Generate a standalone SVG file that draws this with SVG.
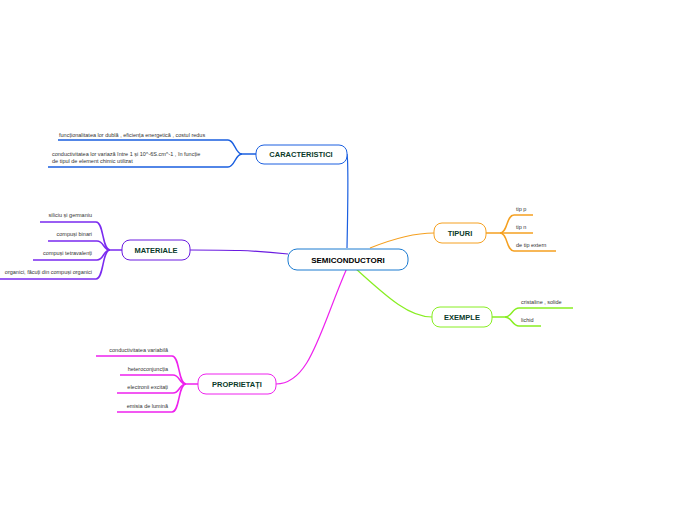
<svg xmlns="http://www.w3.org/2000/svg" width="697" height="520" viewBox="0 0 697 520">
<style>
text{font-family:"Liberation Sans",Arial,sans-serif}
.l{font-size:5.5px;fill:#333}
.n{font-size:7.5px;font-weight:bold;fill:#0a3a2a;text-anchor:middle}
</style>
<rect width="697" height="520" fill="#fff"/>
<g id="connectors" fill="none">
<path d="M347 248 C348 200 348 160 347 154" stroke="#1a5fe0" stroke-width="1.2"/>
<path d="M256 154 H242 C235 154 235 140 228 140 H58" stroke="#1a5fe0" stroke-width="1.5"/>
<path d="M242 154 C235 154 235 167 228 167 H48" stroke="#1a5fe0" stroke-width="1.5"/>
<path d="M288 254 C250 250 230 250 190 250" stroke="#6a1ae0" stroke-width="1.2"/>
<path d="M122 250 H110 C102 250 104 222 96 222 H40" stroke="#7a2af0" stroke-width="1.5"/>
<path d="M110 250 C103 250 104 241 97 241 H48" stroke="#7a2af0" stroke-width="1.5"/>
<path d="M110 250 C103 250 104 260 97 260 H33" stroke="#7a2af0" stroke-width="1.5"/>
<path d="M110 250 C102 250 104 279 96 279 H0" stroke="#7a2af0" stroke-width="1.5"/>
<path d="M347 268 C320 330 310 384 276 384" stroke="#ee22ee" stroke-width="1.2"/>
<path d="M198 384 H186 C178 384 180 356 172 356 H96" stroke="#ee22ee" stroke-width="1.5"/>
<path d="M186 384 C179 384 180 375 173 375 H120" stroke="#ee22ee" stroke-width="1.5"/>
<path d="M186 384 C179 384 180 393 173 393 H117" stroke="#ee22ee" stroke-width="1.5"/>
<path d="M186 384 C178 384 180 412 172 412 H117" stroke="#ee22ee" stroke-width="1.5"/>
<path d="M370 248 C395 238 415 233 434 233" stroke="#f5a020" stroke-width="1.2"/>
<path d="M486 233 H500 C508 233 506 215 514 215 H533" stroke="#f5a020" stroke-width="1.5"/>
<path d="M500 233 C507 233 507 233 514 233 H533" stroke="#f5a020" stroke-width="1.5"/>
<path d="M500 233 C508 233 506 251 514 251 H556" stroke="#f5a020" stroke-width="1.5"/>
<path d="M355 268 C390 300 410 317 432 317" stroke="#88ee22" stroke-width="1.2"/>
<path d="M492 317 H505 C512 317 512 308 519 308 H573" stroke="#88ee22" stroke-width="1.5"/>
<path d="M505 317 C512 317 512 326 519 326 H541" stroke="#88ee22" stroke-width="1.5"/>
</g>
<g id="center"><rect x="288" y="249" width="120" height="21" rx="9" fill="#fff" stroke="#1a7ad0"/><text class="n" x="348" y="263" style="font-size:8px;fill:#000">SEMICONDUCTORI</text></g>
<g id="caracteristici"><rect x="256" y="145" width="91" height="19" rx="8" fill="#fff" stroke="#1a5fe0"/><text class="n" x="301" y="157">CARACTERISTICI</text>
<text class="l" x="59" y="137">funcționalitatea lor dublă , eficiența energetică , costul redus</text>
<text class="l" x="52" y="156">conductivitatea lor variază între 1 și 10^-6S.cm^-1 , în funcție</text>
<text class="l" x="52" y="163">de tipul de element chimic utilizat</text></g>
<g id="materiale"><rect x="122" y="240" width="68" height="20" rx="8" fill="#fff" stroke="#6a1ae0"/><text class="n" x="156" y="253">MATERIALE</text>
<text class="l" x="92" y="217" text-anchor="end">siliciu și germaniu</text>
<text class="l" x="92" y="236" text-anchor="end">compuși binari</text>
<text class="l" x="92" y="255" text-anchor="end">compuși tetravalenți</text>
<text class="l" x="92" y="274" text-anchor="end">organici, făcuți din compuși organici</text></g>
<g id="proprietati"><rect x="198" y="374" width="78" height="20" rx="8" fill="#fff" stroke="#ee22ee"/><text class="n" x="237" y="387">PROPRIETAȚI</text>
<text class="l" x="168" y="352" text-anchor="end">conductivitatea variabilă</text>
<text class="l" x="168" y="371" text-anchor="end">heteroconjuncția</text>
<text class="l" x="168" y="389" text-anchor="end">electronii excitați</text>
<text class="l" x="168" y="408" text-anchor="end">emisia de lumină</text></g>
<g id="tipuri"><rect x="434" y="223" width="52" height="20" rx="8" fill="#fff" stroke="#f5a020"/><text class="n" x="460" y="236">TIPURI</text>
<text class="l" x="516" y="211">tip p</text>
<text class="l" x="516" y="229">tip n</text>
<text class="l" x="516" y="247">de tip extern</text></g>
<g id="exemple"><rect x="432" y="307" width="60" height="20" rx="8" fill="#fff" stroke="#88ee22"/><text class="n" x="462" y="320">EXEMPLE</text>
<text class="l" x="521" y="304">cristaline , solide</text>
<text class="l" x="521" y="322">lichid</text></g>
</svg>
